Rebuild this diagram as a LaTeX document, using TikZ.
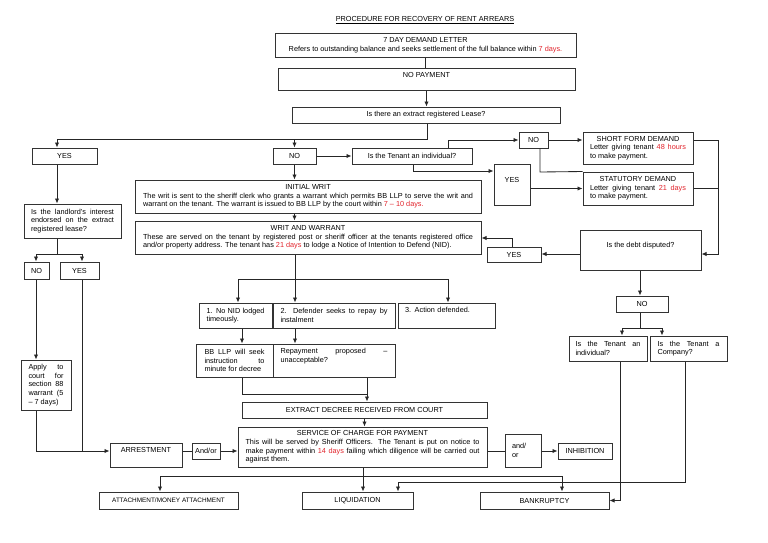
\documentclass[tikz,border=0pt]{standalone}
\usepackage{fontspec}
\setmainfont{Liberation Sans}
\usepackage{xcolor}
\usepackage{tikz}
\usetikzlibrary{positioning,calc,arrows.meta}
\definecolor{duered}{RGB}{226,36,44}
\newcommand{\deadline}[1]{\textcolor{duered}{#1}}
\newcommand{\boxtitle}[1]{\hfill#1\hfill\null\\}
\tolerance=9999
\hbadness=10000
\begin{document}
\begin{tikzpicture}[x=1pt, y=-1pt,
    panel/.style={shape=rectangle, draw=black!80, line width=1pt, inner sep=0pt, font=\fontsize{7.3}{8.6}\selectfont},
    textpanel/.style={panel, align=justify},
    sz/.style 2 args={minimum width=#1, minimum height=#2},
    heading/.style={font=\fontsize{7.3}{8.6}\selectfont},
    wire/.style={draw=black!85, line width=0.85pt},
    flow/.style={wire, -{Latex[length=5pt, width=4.4pt]}}
]
    \useasboundingbox (0,0) rectangle (768,542);
    \fill[white] (0,0) rectangle (768,542);

    % Heading and demand letter
    \node[heading] (title) at (425,20) {\underline{PROCEDURE FOR RECOVERY OF RENT ARREARS}};
    \node[panel, sz={301}{24}, align=center] (demand) at (425.5,45) {7 DAY DEMAND LETTER\\Refers to outstanding balance and seeks settlement of the full balance within \deadline{7 days.}};
    \node[panel, sz={297}{22}, text depth=8pt] (nopay) at (426.5,79) {NO PAYMENT};
    \node[panel, sz={268}{16}] (lease) at (426,115) {Is there an extract registered Lease?};

    % Registered lease branch
    \node[panel, sz={65}{16}] (yes1) at (64.5,156) {YES};
    \node[textpanel, sz={97}{34}, text width=83] (landlord) at (72.5,221) {Is the landlord’s interest\linebreak endorsed on the extract\linebreak registered lease?};
    \node[panel, sz={25}{17}] (no5) at (36.5,270.5) {NO};
    \node[panel, sz={39}{17}] (yes5) at (79.5,270.5) {YES};
    \node[textpanel, sz={50}{50}, text width=35] (apply) at (46,385) {Apply to\linebreak court for\linebreak section 88\linebreak warrant (5\linebreak – 7 days)};

    % No lease branch
    \node[panel, sz={43}{16}] (no1) at (294.5,156) {NO};
    \node[panel, sz={120}{16}] (indiv1) at (412,156) {Is the Tenant an individual?};
    \node[panel, sz={29}{16}] (no2) at (533.5,140) {NO};
    \node[panel, sz={36}{41}, text depth=9pt] (yes2) at (512,184.5) {YES};
    \node[textpanel, sz={110}{32}, text width=96] (sfd) at (638,148) {\boxtitle{SHORT FORM DEMAND}Letter giving tenant \deadline{48 hours}\linebreak to make payment.};
    \node[textpanel, sz={110}{33}, text width=96] (stat) at (638,188.5) {\boxtitle{STATUTORY DEMAND}Letter giving tenant \deadline{21 days}\linebreak to make payment.};
    \node[panel, sz={121}{40}, text depth=10pt] (debt) at (640.5,250) {Is the debt disputed?};
    \node[panel, sz={54}{15}] (yes3) at (514,254.5) {YES};
    \node[panel, sz={52}{16}] (no4) at (642,304) {NO};
    \node[textpanel, sz={78}{25}, text width=65] (indiv2) at (608,348.5) {Is the Tenant an\linebreak individual?};
    \node[textpanel, sz={77}{25}, text width=62] (comp) at (688.5,348.5) {Is the Tenant a\linebreak Company?};

    % Writ and outcomes
    \node[textpanel, sz={346}{33}, text width=330] (iwrit) at (308,196.5) {\boxtitle{INITIAL WRIT}The writ is sent to the sheriff clerk who grants a warrant which permits BB LLP to serve the writ and\linebreak warrant on the tenant. The warrant is issued to BB LLP by the court within \deadline{7 – 10 days.}};
    \node[textpanel, sz={346}{33}, text width=330] (wwar) at (308,237.5) {\boxtitle{WRIT AND WARRANT}These are served on the tenant by registered post or sheriff officer at the tenants registered office\linebreak and/or property address. The tenant has \deadline{21 days} to lodge a Notice of Intention to Defend (NID).};
    \node[textpanel, sz={73}{25}, text width=58] (opt1) at (235.5,315.5) {1. No NID lodged\linebreak timeously.};
    \node[textpanel, sz={122}{25}, text width=107] (opt2) at (334,315.5) {2. Defender seeks to repay by\linebreak instalment};
    \node[panel, sz={97}{25}, text width=83, align=left, text depth=11pt] (opt3) at (446.5,315.5) {3. Action defended.};
    \node[textpanel, sz={77}{33}, text width=60] (seek) at (234.5,360.5) {BB LLP will seek\linebreak instruction to\linebreak minute for decree};
    \node[textpanel, sz={122}{33}, text width=107, text depth=19pt] (repay) at (334,360.5) {Repayment proposed –\linebreak unacceptable?};
    \node[panel, sz={245}{16}] (extract) at (364.5,410) {EXTRACT DECREE RECEIVED FROM COURT};
    \node[textpanel, sz={249}{40}, text width=234] (service) at (362.5,447) {\boxtitle{SERVICE OF CHARGE FOR PAYMENT}This will be served by Sheriff Officers. The Tenant is put on notice to\linebreak make payment within \deadline{14 days} failing which diligence will be carried out\linebreak against them.};

    % Diligence
    \node[panel, sz={72}{24}, text depth=10pt] (arrest) at (146,455) {ARRESTMENT};
    \node[panel, sz={28}{16}] (andor1) at (206,451) {And/or};
    \node[panel, sz={36}{33}, text width=22, align=left] (andor2) at (523,450.5) {and/\\or};
    \node[panel, sz={54}{16}] (inhib) at (585,451) {INHIBITION};
    \node[panel, sz={139}{17}, font=\fontsize{6.4}{7.5}\selectfont] (attach) at (168.5,500.5) {ATTACHMENT/MONEY ATTACHMENT};
    \node[panel, sz={111}{17}] (liq) at (357.5,500.5) {LIQUIDATION};
    \node[panel, sz={129}{17}] (bank) at (544.5,500.5) {BANKRUPTCY};

    % Junctions
    \coordinate (jlease) at (427,139);
    \coordinate (jyes) at (57,139);
    \coordinate (jland) at (57,254);
    \coordinate (jno5) at (36,254);
    \coordinate (jyes5) at (82,254);
    \coordinate (jarr) at (36,451);
    \coordinate (jno2) at (448,140);
    \coordinate (jyes2) at (413,171);
    \coordinate (jstat) at (540,172);
    \coordinate (jright) at (718,254);
    \coordinate (jyes3) at (512,238);
    \coordinate (jdebt) at (640,328);
    \coordinate (jind) at (622,328);
    \coordinate (jcomp) at (662,328);
    \coordinate (jwar) at (295,279);
    \coordinate (jopt1) at (238,279);
    \coordinate (jopt3) at (448,279);
    \coordinate (jseek) at (242,394);
    \coordinate (jrep) at (367,394);
    \coordinate (jserv) at (363,476);
    \coordinate (jatt) at (160,476);
    \coordinate (jbank) at (562,476);
    \coordinate (jliq) at (398,482);
    \coordinate (jcompb) at (685,482);
    \coordinate (jindb) at (620,500);

    % Connections
    \draw[wire] (demand.south) -- (demand.south |- nopay.north);
    \draw[flow] (nopay.south) -- (nopay.south |- lease.north);
    \draw[wire] (jlease |- lease.south) -- (jlease) -- (jyes);
    \draw[flow] (jyes) -- (jyes |- yes1.north);
    \draw[flow] (jlease) -| (no1.north);

    \draw[flow] (jyes |- yes1.south) -- (jyes |- landlord.north);
    \draw[wire] (jyes |- landlord.south) -- (jland);
    \draw[wire] (jno5) -- (jyes5);
    \draw[flow] (jno5) -- (jno5 |- no5.north);
    \draw[flow] (jyes5) -- (jyes5 |- yes5.north);
    \draw[flow] (jno5 |- no5.south) -- (jno5 |- apply.north);
    \draw[flow] (jno5 |- apply.south) -- (jarr) -- (jarr -| arrest.west);
    \draw[wire] (jyes5 |- yes5.south) -- (jyes5 |- jarr);

    \draw[flow] (no1.east) -- (indiv1.west);
    \draw[flow] (jno2 |- indiv1.north) -- (jno2) -- (jno2 -| no2.west);
    \draw[flow] (jyes2 |- indiv1.south) -- (jyes2) -- (jyes2 -| yes2.west);
    \draw[flow] (no2.east) -- (no2.east -| sfd.west);
    \draw[wire] (jstat |- no2.south) -- (jstat) -- (stat.north west);
    \draw[flow] (stat.west -| yes2.east) -- (stat.west);
    \draw[flow] (no2.east -| sfd.east) -| (jright) -- (jright -| debt.east);
    \draw[wire] (stat.east) -- (stat.east -| jright);
    \draw[flow] (jright -| debt.west) -- (jright -| yes3.east);
    \draw[flow] (jyes3 |- yes3.north) -- (jyes3) -- (jyes3 -| wwar.east);
    \draw[flow] (jdebt |- debt.south) -- (jdebt |- no4.north);
    \draw[wire] (jdebt |- no4.south) -- (jdebt);
    \draw[wire] (jind) -- (jcomp);
    \draw[flow] (jind) -- (jind |- indiv2.north);
    \draw[flow] (jcomp) -- (jcomp |- comp.north);
    \draw[flow] (jindb |- indiv2.south) |- (bank.east);
    \draw[flow] (jcompb |- comp.south) -- (jcompb) -- (jliq) -- (jliq |- liq.north);

    \draw[flow] (no1.south) -- (no1.south |- iwrit.north);
    \draw[flow] (no1.south |- iwrit.south) -- (no1.south |- wwar.north);
    \draw[wire] (jwar |- wwar.south) -- (jwar);
    \draw[wire] (jopt1) -- (jopt3);
    \draw[flow] (jopt1) -- (jopt1 |- opt1.north);
    \draw[flow] (jwar) -- (jwar |- opt2.north);
    \draw[flow] (jopt3) -- (jopt3 |- opt3.north);
    \draw[flow] (jseek |- opt1.south) -- (jseek |- seek.north);
    \draw[flow] (jwar |- opt2.south) -- (jwar |- repay.north);
    \draw[wire] (jseek |- seek.south) -- (jseek) -- (jrep);
    \draw[flow] (jrep |- repay.south) -- (jrep |- extract.north);
    \draw[flow] (extract.south) -- (extract.south |- service.north);

    \draw[wire] (jarr -| arrest.east) -- (andor1.west);
    \draw[flow] (andor1.east) -- (andor1.east -| service.west);
    \draw[wire] (andor1.east -| service.east) -- (andor1.east -| andor2.west);
    \draw[flow] (inhib.west -| andor2.east) -- (inhib.west);
    \draw[flow] (jserv |- service.south) -- (jserv |- liq.north);
    \draw[wire] (jatt) -- (jbank);
    \draw[flow] (jatt) -- (jatt |- attach.north);
    \draw[flow] (jbank) -- (jbank |- bank.north);

\end{tikzpicture}
\end{document}
